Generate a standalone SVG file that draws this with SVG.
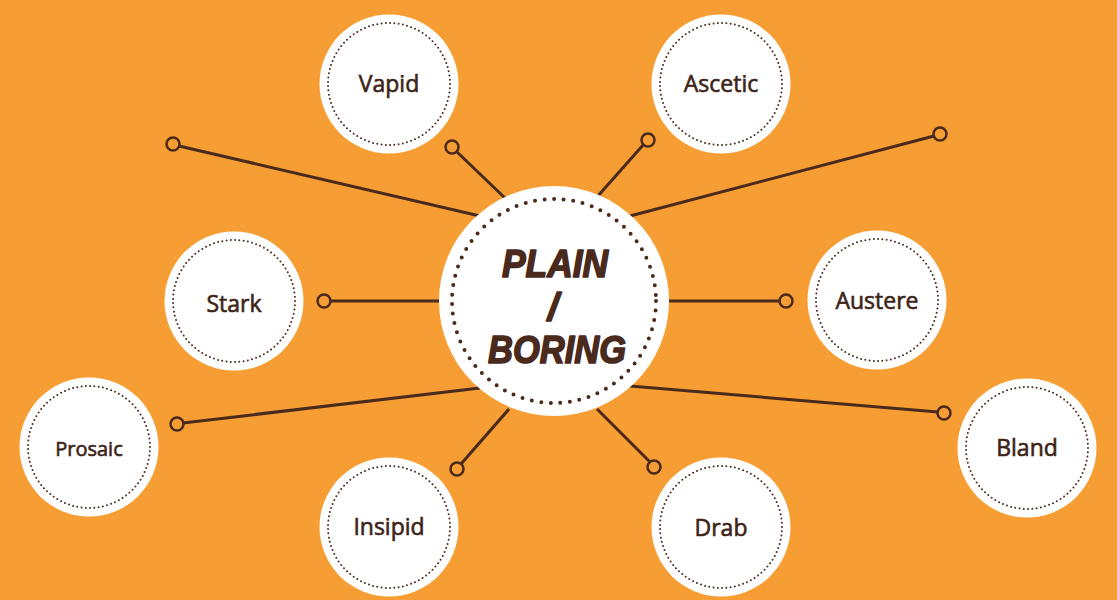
<svg xmlns="http://www.w3.org/2000/svg" width="1117" height="600" viewBox="0 0 1117 600">
<style>
.bg{fill:#F69E33}
.node{fill:#fff}
.dots{fill:none;stroke:#4a2a1c;stroke-width:2;stroke-dasharray:0 4.3;stroke-linecap:round}
.bigdots{fill:none;stroke:#4a2a1c;stroke-width:4;stroke-dasharray:0 9.6;stroke-linecap:round}
.lbl{font-family:"Open Sans","Noto Sans",sans-serif;font-weight:400;font-size:23px;fill:#3d2417;stroke:#3d2417;stroke-width:0.6;text-anchor:middle}
.title{font-family:"Liberation Sans",sans-serif;font-weight:bold;font-style:italic;font-size:38px;fill:#4a2a1c;stroke:#4a2a1c;stroke-width:1.6;stroke-linejoin:round;text-anchor:middle}
.ln{stroke:#4a2a1c;stroke-width:3;fill:none}
.end{stroke:#4a2a1c;stroke-width:2.5;fill:#F69E33}
</style>
<rect class="bg" x="0" y="0" width="1117" height="600"/>
<g id="connectors">
<line class="ln" x1="179" y1="146" x2="480" y2="216"/>
<circle class="end" cx="173" cy="144" r="6.5"/>
<line class="ln" x1="456" y1="151" x2="506" y2="199"/>
<circle class="end" cx="452" cy="147" r="6.5"/>
<line class="ln" x1="644" y1="144" x2="597" y2="197"/>
<circle class="end" cx="648" cy="140" r="6.5"/>
<line class="ln" x1="934" y1="136" x2="630" y2="216"/>
<circle class="end" cx="940" cy="134" r="6.5"/>
<line class="ln" x1="330" y1="301" x2="440" y2="301"/>
<circle class="end" cx="324" cy="301" r="6.5"/>
<line class="ln" x1="780" y1="301" x2="668" y2="301"/>
<circle class="end" cx="786" cy="301" r="6.5"/>
<line class="ln" x1="183" y1="423" x2="480" y2="388"/>
<circle class="end" cx="177" cy="424" r="6.5"/>
<line class="ln" x1="938" y1="412" x2="630" y2="386"/>
<circle class="end" cx="944" cy="413" r="6.5"/>
<line class="ln" x1="461" y1="464" x2="509" y2="409"/>
<circle class="end" cx="457" cy="469" r="6.5"/>
<line class="ln" x1="650" y1="462" x2="597" y2="409"/>
<circle class="end" cx="654" cy="467" r="6.5"/>
</g>
<g id="center">
<circle class="node" cx="554" cy="301" r="115"/>
<circle class="bigdots" cx="554" cy="301" r="102"/>
<text class="title" x="555" y="277" textLength="106" lengthAdjust="spacingAndGlyphs">PLAIN</text>
<text class="title" x="553" y="320">/</text>
<text class="title" x="557" y="363" textLength="138" lengthAdjust="spacingAndGlyphs">BORING</text>
</g>
<g id="vapid">
<circle class="node" cx="389" cy="84" r="69.5"/>
<circle class="dots" cx="389" cy="84" r="61"/>
<text class="lbl" x="389" y="92">Vapid</text>
</g>
<g id="ascetic">
<circle class="node" cx="721" cy="84" r="69.5"/>
<circle class="dots" cx="721" cy="84" r="61"/>
<text class="lbl" x="721" y="92">Ascetic</text>
</g>
<g id="stark">
<circle class="node" cx="234" cy="301" r="69.5"/>
<circle class="dots" cx="234" cy="301" r="61"/>
<text class="lbl" x="234" y="312">Stark</text>
</g>
<g id="austere">
<circle class="node" cx="877" cy="300" r="69.5"/>
<circle class="dots" cx="877" cy="300" r="61"/>
<text class="lbl" x="877" y="309">Austere</text>
</g>
<g id="prosaic">
<circle class="node" cx="89" cy="447" r="69.5"/>
<circle class="dots" cx="89" cy="447" r="61"/>
<text class="lbl" x="89" y="456" style="font-size:20px">Prosaic</text>
</g>
<g id="bland">
<circle class="node" cx="1027" cy="448" r="69.5"/>
<circle class="dots" cx="1027" cy="448" r="61"/>
<text class="lbl" x="1027" y="456">Bland</text>
</g>
<g id="insipid">
<circle class="node" cx="389" cy="527" r="69.5"/>
<circle class="dots" cx="389" cy="527" r="61"/>
<text class="lbl" x="389" y="535">Insipid</text>
</g>
<g id="drab">
<circle class="node" cx="721" cy="527" r="69.5"/>
<circle class="dots" cx="721" cy="527" r="61"/>
<text class="lbl" x="721" y="536">Drab</text>
</g>
</svg>
